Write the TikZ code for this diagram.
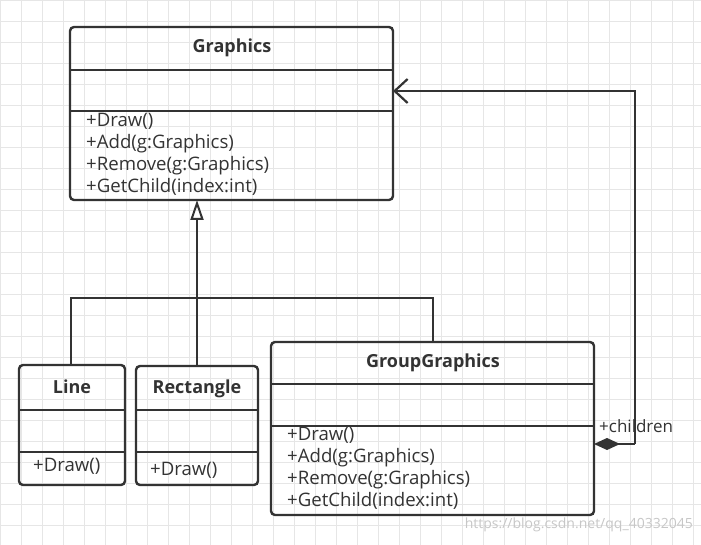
\documentclass[tikz,border=0pt]{standalone}
\usepackage{fontspec}
\setmainfont{Open Sans}
\usetikzlibrary{arrows.meta}
\definecolor{ink}{HTML}{333333}
\definecolor{grid}{HTML}{E6E6E6}
\begin{document}
\begin{tikzpicture}[x=1pt,y=-1pt,
  box/.style={draw=ink,line width=2.4pt,rounded corners=4pt},
  sep/.style={draw=ink,line width=2pt},
  ttl/.style={font=\fontsize{18}{20}\selectfont\bfseries,text=ink,inner sep=0},
  op/.style={font=\fontsize{18.6}{22}\selectfont,text=ink,anchor=north west,align=left,inner sep=0},
  wire/.style={draw=ink,line width=2.2pt}]
\useasboundingbox (0,0) rectangle (701,545);
\fill[white] (0,0) rectangle (701,545);
\foreach \i in {0,...,33} \draw[grid,line width=0.8pt] (\i*21,0) -- (\i*21,545);
\foreach \i in {0,...,26} \draw[grid,line width=0.8pt] (0,\i*21) -- (701,\i*21);
% Graphics
\draw[box] (70,27) rectangle (393,200);
\draw[sep] (70,70) -- (393,70); \draw[sep] (70,111) -- (393,111);
\node[ttl] (g) at (232,48) {Graphics};
\node[op] (gops) at (86,113) {+Draw()\\+Add(g:Graphics)\\+Remove(g:Graphics)\\+GetChild(index:int)};
\coordinate (gbot) at (197,200);
\coordinate (gright) at (393,91);
% Line
\draw[box] (19,365) rectangle (125,485);
\draw[sep] (19,410) -- (125,410); \draw[sep] (19,452) -- (125,452);
\node[ttl] (l) at (72,387) {Line};
\node[op] (lops) at (33,458) {+Draw()};
% Rectangle
\draw[box] (136,366) rectangle (258,485);
\draw[sep] (136,410) -- (258,410); \draw[sep] (136,452) -- (258,452);
\node[ttl] (r) at (197,389) {Rectangle};
\node[op] (rops) at (150,462) {+Draw()};
% GroupGraphics
\draw[box] (271,342) rectangle (594,515);
\draw[sep] (271,384) -- (594,384); \draw[sep] (271,426) -- (594,426);
\node[ttl] (gg) at (433,363) {GroupGraphics};
\node[op] (ggops) at (287,427) {+Draw()\\+Add(g:Graphics)\\+Remove(g:Graphics)\\+GetChild(index:int)};
\coordinate (ltop) at (71,365);
\coordinate (rtop) at (197,366);
\coordinate (ggtop) at (433,342);
\coordinate (ggright) at (594,444);
% generalization
\draw[wire] (ltop) -- (71,298) -- (433,298) -- (ggtop);
\draw[wire,-{Triangle[open,width=13pt,length=20pt,line width=2pt]}] (rtop) -- (gbot);
% composition
\draw[wire,-{Straight Barb[width=24pt,length=13pt,line width=2.2pt]}] (635,444) -- (635,91) -- (gright);
\draw[wire,{Diamond[width=12pt,length=26pt]}-] (ggright) -- (635,444);
\node[font=\fontsize{17}{20}\selectfont,text=ink,anchor=south west,inner sep=0] (ch) at (599,433) {+children};
\node[font=\fontsize{14}{16}\selectfont,text=grid!70!gray,anchor=south east,inner sep=0] at (693,532) {https://blog.csdn.net/qq\_40332045};
\end{tikzpicture}
\end{document}
